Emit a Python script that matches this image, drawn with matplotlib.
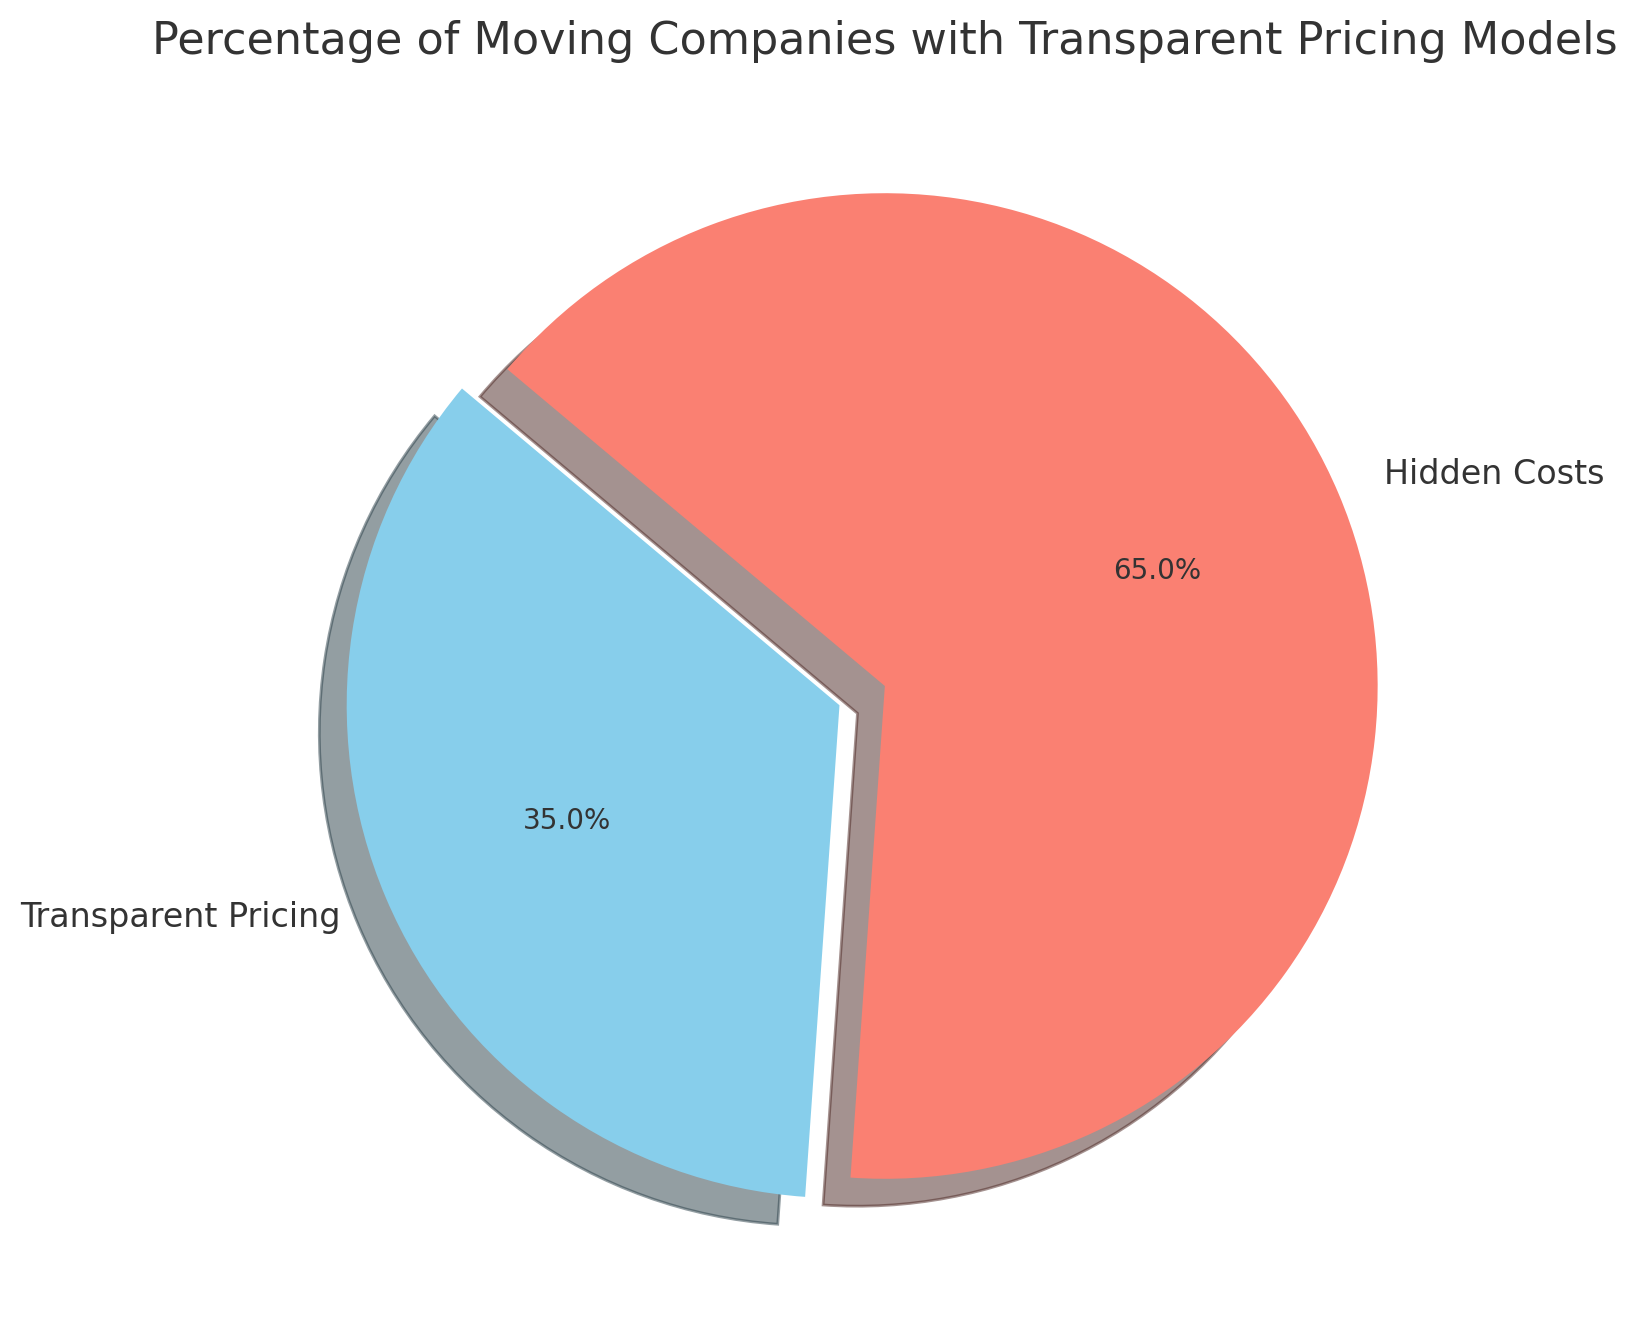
import matplotlib
matplotlib.use("Agg")
import matplotlib.pyplot as plt

plt.rcParams['font.family'] = ['DejaVu Sans']
plt.rcParams['text.color'] = '#333333'

labels = ["Transparent Pricing", "Hidden Costs"]
sizes = [35, 65]
colors = ["skyblue", "salmon"]
explode = (0.1, 0)

fig, ax = plt.subplots(figsize=(10, 8))
wedges, texts, autotexts = ax.pie(sizes, labels=labels, colors=colors, explode=explode,
                                  autopct='%1.1f%%', shadow=True, startangle=140,
                                  textprops={'fontsize': 12})
for t in autotexts:
    t.set_fontsize(10)
ax.set_title("Percentage of Moving Companies with Transparent Pricing Models", fontsize=16)
plt.savefig("out.png", dpi=200, bbox_inches='tight')
